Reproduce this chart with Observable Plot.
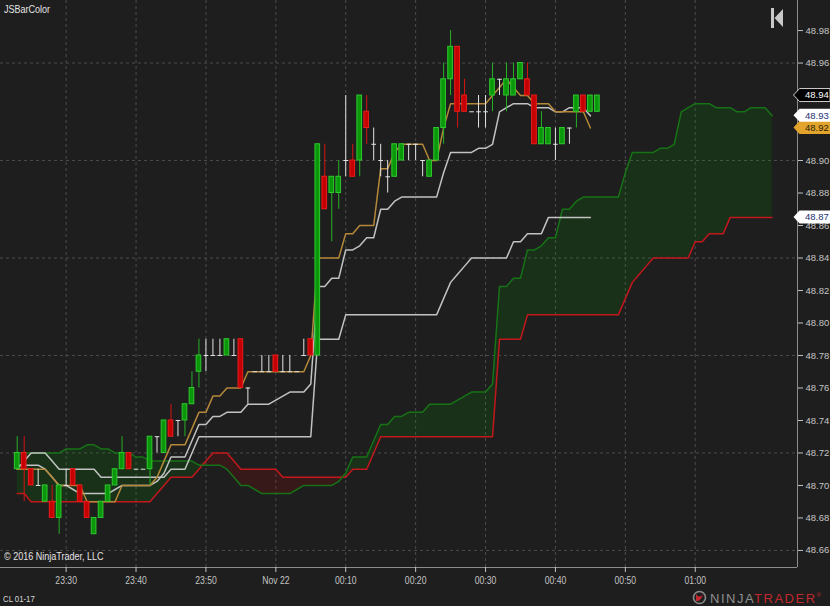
<!DOCTYPE html>
<html>
<head>
<meta charset="utf-8">
<script src="https://cdn.jsdelivr.net/npm/d3@7"></script>
<script src="https://cdn.jsdelivr.net/npm/@observablehq/plot@0.6"></script>
<style>
  html, body { margin: 0; padding: 0; background: #1e1e1e; }
  #wrap { position: relative; width: 830px; height: 606px; overflow: hidden; background: #1e1e1e;
          font-family: "Liberation Sans", Arial, sans-serif; }
  #wrap > svg { display: block; }
  .ov { position: absolute; white-space: nowrap; line-height: 1; color: #e4e4e4; }
  .narrow { transform: scaleX(0.82); transform-origin: 0 0; }
</style>
</head>
<body>
<div id="wrap"></div>
<script>
// ---------- data (1-minute bars, CL 01-17) ----------
const firstBar = "2016-11-21T23:23:00Z";
const opens = [48.71,48.72,48.71,48.70,48.69,48.69,48.68,48.70,48.71,48.70,
  48.69,48.67,48.68,48.69,48.70,48.71,48.72,48.71,48.71,48.71,
  48.73,48.72,48.74,48.74,48.74,48.75,48.77,48.78,48.78,48.78,
  48.78,48.78,48.79,48.76,48.77,48.77,48.77,48.78,48.77,48.77,
  48.77,48.78,48.79,48.78,48.89,48.88,48.88,48.90,48.90,48.90,
  48.93,48.91,48.90,48.89,48.89,48.90,48.91,48.91,48.90,48.89,
  48.90,48.92,48.95,48.97,48.94,48.93,48.93,48.93,48.94,48.95,
  48.94,48.94,48.95,48.95,48.94,48.91,48.91,48.91,48.91,48.92,
  48.93,48.94,48.93,48.93];
const highs = [48.73,48.73,48.71,48.71,48.70,48.70,48.70,48.71,48.71,48.70,
  48.69,48.68,48.69,48.70,48.71,48.73,48.72,48.71,48.71,48.73,
  48.73,48.74,48.75,48.74,48.75,48.77,48.79,48.79,48.79,48.79,
  48.79,48.79,48.79,48.76,48.77,48.78,48.78,48.78,48.78,48.78,
  48.77,48.79,48.79,48.91,48.91,48.89,48.90,48.94,48.91,48.94,
  48.94,48.92,48.91,48.90,48.91,48.91,48.91,48.91,48.90,48.90,
  48.92,48.96,48.98,48.97,48.95,48.93,48.94,48.94,48.96,48.95,
  48.96,48.96,48.96,48.96,48.94,48.93,48.92,48.92,48.92,48.92,
  48.94,48.94,48.94,48.94];
const lows = [48.71,48.69,48.70,48.70,48.69,48.68,48.67,48.70,48.70,48.69,
  48.68,48.67,48.68,48.69,48.70,48.71,48.71,48.71,48.71,48.70,
  48.72,48.72,48.73,48.73,48.73,48.75,48.76,48.77,48.78,48.78,
  48.78,48.78,48.76,48.75,48.77,48.77,48.77,48.77,48.77,48.77,
  48.77,48.78,48.78,48.78,48.87,48.85,48.87,48.89,48.89,48.89,
  48.91,48.90,48.89,48.88,48.89,48.90,48.90,48.90,48.89,48.89,
  48.90,48.91,48.94,48.92,48.93,48.93,48.92,48.92,48.93,48.94,
  48.93,48.94,48.95,48.94,48.91,48.91,48.91,48.90,48.91,48.91,
  48.92,48.93,48.93,48.93];
const closes = [48.72,48.71,48.70,48.70,48.70,48.68,48.70,48.70,48.70,48.69,
  48.68,48.68,48.69,48.70,48.71,48.72,48.71,48.71,48.71,48.73,
  48.73,48.74,48.73,48.74,48.75,48.76,48.78,48.78,48.78,48.78,
  48.79,48.78,48.76,48.76,48.77,48.77,48.77,48.77,48.77,48.77,
  48.77,48.78,48.78,48.91,48.87,48.89,48.89,48.90,48.89,48.94,
  48.92,48.91,48.90,48.89,48.91,48.91,48.91,48.91,48.90,48.90,
  48.92,48.95,48.97,48.93,48.93,48.93,48.93,48.93,48.95,48.95,
  48.95,48.95,48.96,48.94,48.91,48.92,48.92,48.91,48.92,48.92,
  48.94,48.93,48.94,48.94];

// indicator lines (per bar, last bar has none)
const tenkan = [48.71,48.71,48.71,48.71,48.71,48.705,48.70,48.70,48.70,48.70,
  48.69,48.69,48.69,48.69,48.69,48.70,48.70,48.70,48.70,48.70,
  48.705,48.715,48.725,48.725,48.725,48.735,48.745,48.745,48.755,48.755,
  48.76,48.76,48.76,48.77,48.77,48.77,48.77,48.77,48.77,48.77,
  48.77,48.77,48.78,48.84,48.84,48.84,48.84,48.855,48.855,48.86,
  48.86,48.86,48.895,48.895,48.905,48.91,48.91,48.91,48.91,48.90,
  48.90,48.92,48.935,48.935,48.935,48.935,48.935,48.935,48.94,48.945,
  48.95,48.945,48.94,48.94,48.935,48.935,48.935,48.93,48.93,48.93,
  48.93,48.93,48.92];
const senkouA = [48.7125,48.7125,48.7125,48.7125,48.71,48.705,48.70,48.70,48.6975,48.695,
  48.695,48.695,48.695,48.695,48.6975,48.70,48.70,48.70,48.70,48.70,
  48.7025,48.7075,48.7175,48.7175,48.7175,48.7275,48.7375,48.7375,48.7425,48.7425,
  48.745,48.745,48.745,48.75,48.75,48.75,48.75,48.7525,48.755,48.7575,
  48.7575,48.7575,48.7625,48.8225,48.8225,48.8275,48.8275,48.845,48.845,48.8475,
  48.8525,48.8525,48.87,48.87,48.875,48.8775,48.8775,48.8775,48.8775,48.8775,
  48.8775,48.8925,48.905,48.905,48.905,48.905,48.9075,48.9075,48.91,48.93,
  48.9325,48.935,48.935,48.935,48.9325,48.9325,48.9325,48.93,48.93,48.9325,
  48.9325,48.9325,48.9275];
const senkouB = [48.71,48.715,48.72,48.72,48.72,48.715,48.71,48.71,48.71,48.71,
  48.71,48.71,48.705,48.705,48.705,48.705,48.705,48.705,48.705,48.705,
  48.705,48.705,48.71,48.71,48.71,48.72,48.73,48.73,48.73,48.73,
  48.73,48.73,48.73,48.73,48.73,48.73,48.73,48.73,48.73,48.73,
  48.73,48.73,48.73,48.79,48.79,48.79,48.79,48.805,48.805,48.805,
  48.805,48.805,48.805,48.805,48.805,48.805,48.805,48.805,48.805,48.805,
  48.805,48.815,48.825,48.83,48.835,48.84,48.84,48.84,48.84,48.84,
  48.84,48.85,48.85,48.855,48.855,48.855,48.865,48.865,48.865,48.865,
  48.865,48.865,48.865];
// cloud values before the shifted spans start (26 bars)
const cloudLeadA = [48.72,48.72,48.72,48.72,48.72,48.72,48.72,48.7225,48.7225,48.7225,
  48.725,48.725,48.7225,48.7225,48.72,48.72,48.72,48.7175,48.7175,48.715,
  48.715,48.715,48.715,48.715,48.715,48.715];
const cloudLeadB = [48.695,48.695,48.69,48.69,48.69,48.69,48.69,48.69,48.69,48.69,
  48.69,48.69,48.69,48.69,48.69,48.69,48.69,48.69,48.69,48.69,
  48.695,48.70,48.705,48.705,48.705,48.705];

const yTicks = [48.66,48.68,48.70,48.72,48.74,48.76,48.78,48.80,48.82,48.84,48.86,48.88,48.90,48.92,48.94,48.96,48.98];
const yGrid = [48.66,48.72,48.78,48.84,48.90,48.96];
const xTickTimes = ["2016-11-21T23:30:00Z","2016-11-21T23:40:00Z","2016-11-21T23:50:00Z","2016-11-22T00:00:00Z",
  "2016-11-22T00:10:00Z","2016-11-22T00:20:00Z","2016-11-22T00:30:00Z","2016-11-22T00:40:00Z",
  "2016-11-22T00:50:00Z","2016-11-22T01:00:00Z"];
const xTickLabels = ["23:30","23:40","23:50","Nov 22","00:10","00:20","00:30","00:40","00:50","01:00"];

// ---------- build ----------
const FONT = '"Liberation Sans",Arial,sans-serif';
const SQUEEZE = 0.82;
const MIN = 60000;
const t0 = Date.parse(firstBar);
const bars = opens.map((o, i) => ({t: new Date(t0 + i * MIN), o, h: highs[i], l: lows[i], c: closes[i]}));
const ups = bars.filter(d => d.c > d.o);
const downs = bars.filter(d => d.c < d.o);
const dojis = bars.filter(d => d.c === d.o);
const lines = tenkan.map((v, i) => ({t: new Date(t0 + i * MIN), tenkan: v, spanA: senkouA[i], spanB: senkouB[i]}));
const cloudA = cloudLeadA.concat(senkouA);
const cloudB = cloudLeadB.concat(senkouB);
const cloud = cloudA.map((a, j) => ({t: new Date(t0 + j * MIN), a, b: cloudB[j]}));

const lastClose = closes[closes.length - 1];
const lastTenkan = tenkan[tenkan.length - 1];
const lastA = senkouA[senkouA.length - 1];
const lastB = senkouB[senkouB.length - 1];
const fmt = v => (v + 1e-9).toFixed(2);
// tick labels fully hidden behind the price callouts in the original
const hiddenTicks = new Set([fmt(lastClose), fmt(lastTenkan)]);

const xTicks = xTickTimes.map(s => new Date(s));
const xLabelOf = new Map(xTicks.map((d, i) => [+d, xTickLabels[i]]));
const xDomain = [new Date(t0 - 2.39 * MIN), new Date(t0 + 111.63 * MIN)];
const yDomain = [48.6495, 48.9985];
const half = 20000;
const bx1 = d => new Date(+d.t - half), bx2 = d => new Date(+d.t + half);

const chart = Plot.plot({
  width: 830, height: 606,
  marginTop: 0, marginRight: 33, marginBottom: 39, marginLeft: 0,
  style: {background: "#1e1e1e", color: "#c4c4c4", fontFamily: FONT, fontSize: "10.5px"},
  x: {type: "utc", domain: xDomain, label: null},
  y: {domain: yDomain, label: null},
  marks: [
    Plot.ruleX(xTicks, {stroke: "#4c4c4c", strokeDasharray: "3,3"}),
    Plot.ruleY(yGrid, {stroke: "#4c4c4c", strokeDasharray: "3,3"}),
    Plot.areaY(cloud, {x: "t", y1: "b", y2: d => Math.max(d.a, d.b), fill: "#00a000", fillOpacity: 0.15}),
    Plot.areaY(cloud, {x: "t", y1: "a", y2: d => Math.max(d.a, d.b), fill: "#d00000", fillOpacity: 0.15}),
    Plot.line(cloud, {x: "t", y: "b", stroke: "#c2181c", strokeWidth: 1.5}),
    Plot.line(cloud, {x: "t", y: "a", stroke: "#177217", strokeWidth: 1.5}),
    Plot.line(lines, {x: "t", y: "spanB", stroke: "#c2c2c2", strokeWidth: 1.5}),
    Plot.line(lines, {x: "t", y: "spanA", stroke: "#c2c2c2", strokeWidth: 1.5}),
    Plot.line(lines, {x: "t", y: "tenkan", stroke: "#b5883a", strokeWidth: 1.5}),
    Plot.ruleX(ups, {x: "t", y1: "l", y2: "h", stroke: "#26b026"}),
    Plot.ruleX(downs, {x: "t", y1: "l", y2: "h", stroke: "#d41414"}),
    Plot.rect(ups, {x1: bx1, x2: bx2, y1: "o", y2: "c", fill: "#0a980a", stroke: "#30c830"}),
    Plot.rect(downs, {x1: bx1, x2: bx2, y1: "o", y2: "c", fill: "#c40000", stroke: "#ec1c1c"}),
    Plot.ruleX(dojis, {x: "t", y1: "l", y2: "h", stroke: "#e4e4e4"}),
    Plot.link(dojis, {x1: bx1, x2: bx2, y1: "o", y2: "o", stroke: "#e4e4e4"}),
    Plot.ruleX([xDomain[1]], {stroke: "#8c8c8c"}),
    Plot.ruleY([yDomain[0]], {stroke: "#8c8c8c"}),
    Plot.axisX({ticks: xTicks, tickFormat: d => xLabelOf.get(+d), tickSize: 5, tickPadding: 4, label: null}),
    Plot.axisY({anchor: "right", ticks: yTicks, tickFormat: d => hiddenTicks.has(d.toFixed(2)) ? "" : d.toFixed(2),
                tickSize: 5, tickPadding: 3, fontSize: 9.5, label: null})
  ]
});
document.getElementById("wrap").appendChild(chart);

// condense the time labels (the original uses a narrow face)
d3.select(chart).selectAll('g[aria-label="x-axis tick label"] text').each(function() {
  const len = this.getComputedTextLength();
  if (len > 0) { this.setAttribute("textLength", (len * SQUEEZE).toFixed(2)); this.setAttribute("lengthAdjust", "spacingAndGlyphs"); }
});

// ---------- price callouts on the right axis ----------
const callouts = [
  {v: lastB, fill: "#ffffff", text: "#1d2f74", stroke: "none"},
  {v: lastTenkan, fill: "#e3a42c", text: "#2a2208", stroke: "none"},
  {v: lastA, fill: "#ffffff", text: "#1d2f74", stroke: "none"},
  {v: lastClose, fill: "#000000", text: "#ffffff", stroke: "#cfcfcf"}
];
const ys = chart.scale("y");
const g = d3.select(chart).append("g").attr("font-family", FONT).attr("font-size", 9.5).attr("text-anchor", "start");
for (const c of callouts) {
  const y = ys.apply(c.v);
  g.append("path")
    .attr("d", `M793.5,${y} L799.5,${y - 6.5} L830,${y - 6.5} L830,${y + 6.5} L799.5,${y + 6.5} Z`)
    .attr("fill", c.fill).attr("stroke", c.stroke).attr("stroke-width", 1);
  g.append("text").attr("x", 805).attr("y", y).attr("dy", "0.35em").attr("text-anchor", "start")
    .attr("fill", c.text).text(fmt(c.v));
}

// ---------- overlay texts ----------
const wrap = document.getElementById("wrap");
function ov(html, css, cls) { const d = document.createElement("div"); d.className = "ov" + (cls ? " " + cls : ""); d.innerHTML = html; Object.assign(d.style, css); wrap.appendChild(d); return d; }
ov("JSBarColor", {left: "4px", top: "4px", fontSize: "11px"}, "narrow");
ov("© 2016 NinjaTrader, LLC", {left: "4px", top: "551px", fontSize: "11px"}, "narrow");
ov("CL 01-17", {left: "3px", top: "594px", fontSize: "9.5px", color: "#d8d8d8"}, "narrow");
ov('<svg width="13" height="20" viewBox="0 0 13 20"><rect x="0" y="0" width="3" height="20" fill="#c8c8c8"/><path d="M3.5,10 L12,1 L12,19 Z" fill="#c8c8c8"/></svg>', {left: "771px", top: "8px"});
ov('<svg width="15" height="15" viewBox="0 0 15 15" style="vertical-align:-2px"><circle cx="7.5" cy="7.5" r="6" fill="none" stroke="#8a8a8a" stroke-width="1.6"/><path d="M4,4 Q7.5,9 11,4 Q9,12 4,11 Z" fill="#c0282d"/></svg>'
   + '<span style="font-size:13px;letter-spacing:1.5px;color:#8e8e8e;margin-left:3px">NINJA</span>'
   + '<span style="font-size:13px;letter-spacing:1.5px;color:#c0282d">TRADER</span>'
   + '<span style="font-size:6px;color:#c0282d;vertical-align:6px">®</span>',
   {left: "692px", top: "590px"});
</script>
</body>
</html>
